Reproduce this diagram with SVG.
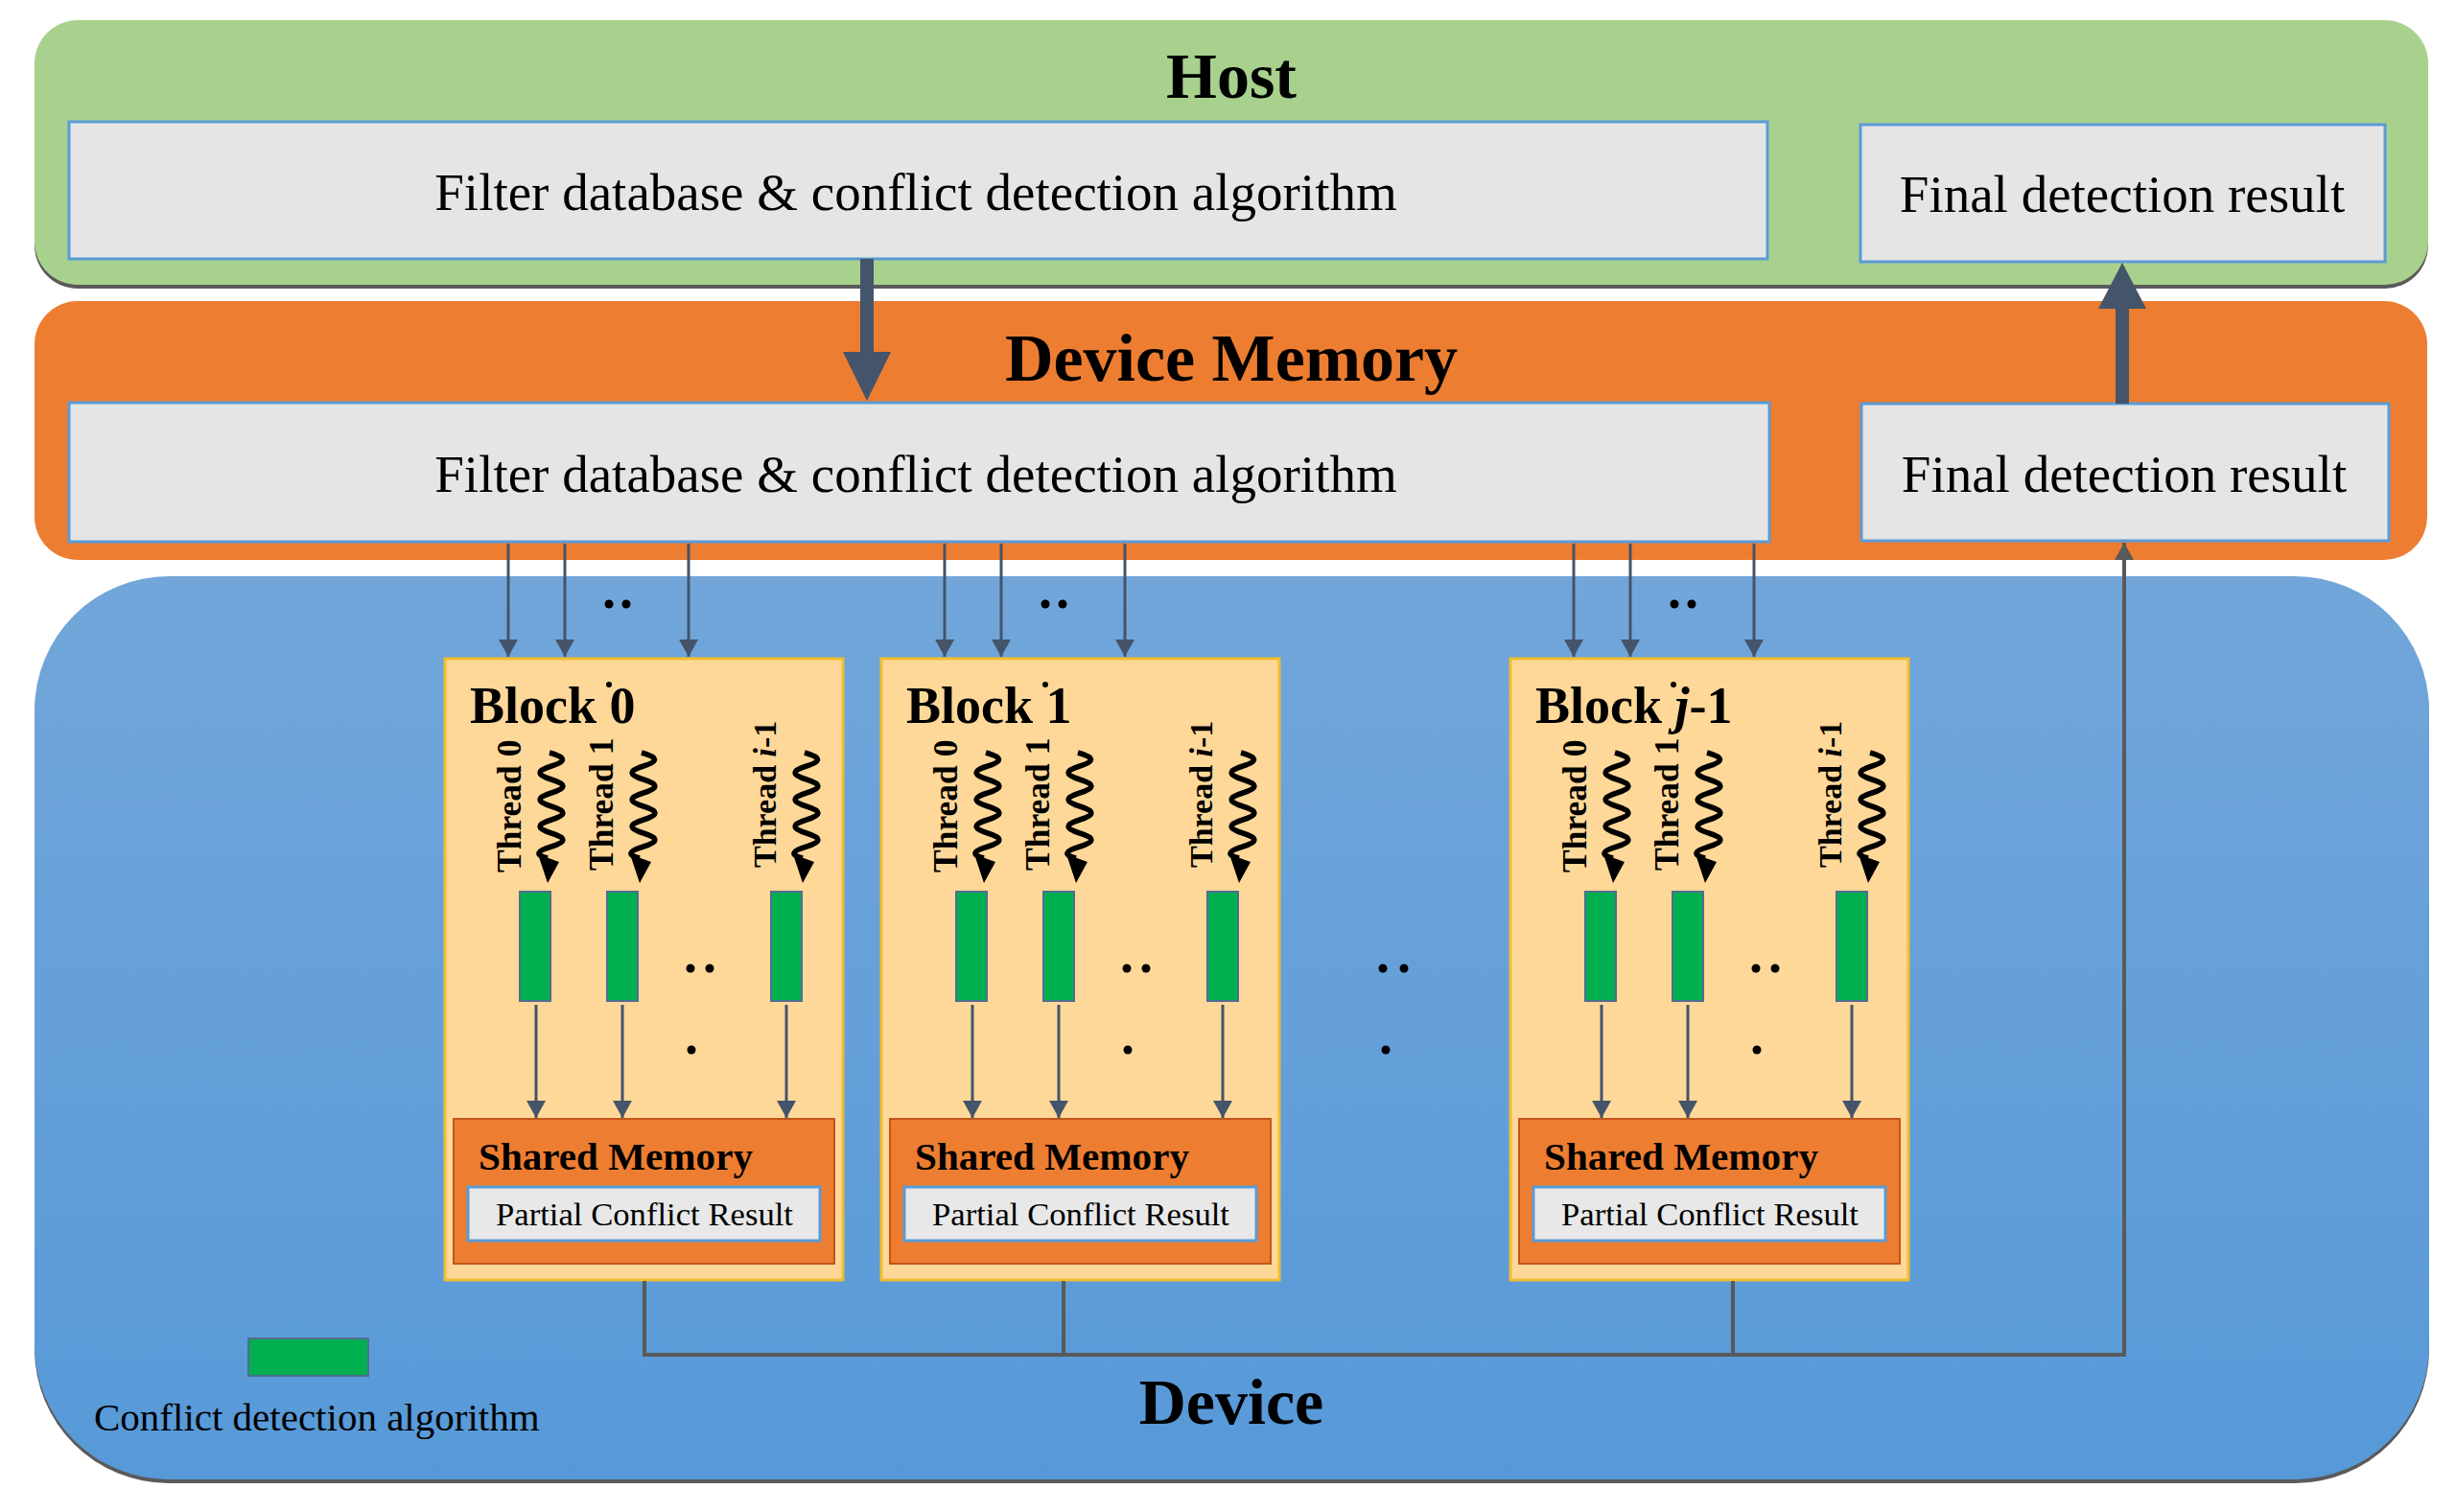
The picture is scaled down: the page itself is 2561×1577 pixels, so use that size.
<svg xmlns="http://www.w3.org/2000/svg" width="2561" height="1577" viewBox="0 0 2561 1577">
<style>
.t{font-family:"Liberation Serif","Times New Roman",serif;fill:#000}
.b{font-weight:bold}
.box{fill:#e5e5e5;stroke:#5b9bd5;stroke-width:3}
.blk{fill:#fed899;stroke:#f0be30;stroke-width:3}
.shm{fill:#ed7d31;stroke:#c0561a;stroke-width:2}
.pcr{fill:#e8e8e8;stroke:#5b9bd5;stroke-width:3}
.alg{fill:#00b050;stroke:#4f6d8f;stroke-width:2}
.ar{stroke:#44546a;stroke-width:3;fill:none;marker-end:url(#ah)}
.cn{stroke:#595959;stroke-width:4;fill:none}
.big{fill:#44546a}
.sq{stroke:#000;stroke-width:5.5;fill:none}
</style>
<defs>
<linearGradient id="blueG" x1="0" y1="0" x2="0" y2="1">
<stop offset="0" stop-color="#72a6da"/>
<stop offset="1" stop-color="#5799d8"/>
</linearGradient>
<marker id="ah" viewBox="0 0 18 20" refX="18" refY="10" markerWidth="18" markerHeight="20" markerUnits="userSpaceOnUse" orient="auto">
<path d="M0,0 L18,10 L0,20 z" fill="#44546a"/>
</marker>
<marker id="ahc" viewBox="0 0 18 20" refX="18" refY="10" markerWidth="18" markerHeight="20" markerUnits="userSpaceOnUse" orient="auto">
<path d="M0,0 L18,10 L0,20 z" fill="#595959"/>
</marker>
<g id="sq">
<path class="sq" d="M-4,0 q26,7 2,14 q-24,7 0,14 q24,7 0,14 q-24,7 0,14 q24,7 0,14 q-24,7 0,14 q24,7 0,14 q-24,7 -4,12"/>
<polygon points="-16,106 6,114 -6,136" fill="#000"/>
</g>
</defs>

<g id="host">
<rect x="36" y="25" width="2496" height="276" rx="45" fill="#5a5a5a"/>
<rect x="36" y="21" width="2496" height="276" rx="45" fill="#a9d18e"/>
<text class="t b" x="1284" y="102" font-size="68" text-anchor="middle">Host</text>
</g>
<g id="host-filter">
<rect class="box" x="72" y="127" width="1771" height="143"/>
<text class="t" x="955" y="219" font-size="55" text-anchor="middle">Filter database &amp; conflict detection algorithm</text>
</g>
<g id="host-final">
<rect class="box" x="1940" y="130" width="547" height="143"/>
<text class="t" x="2213" y="221" font-size="55" text-anchor="middle">Final detection result</text>
</g>

<g id="device-memory">
<rect x="36" y="314" width="2495" height="270" rx="45" fill="#ed7d31"/>
<text class="t b" x="1284" y="397" font-size="70" text-anchor="middle">Device Memory</text>
</g>
<g id="dm-filter">
<rect class="box" x="72" y="420" width="1773" height="145"/>
<text class="t" x="955" y="513" font-size="55" text-anchor="middle">Filter database &amp; conflict detection algorithm</text>
</g>
<g id="dm-final">
<rect class="box" x="1941" y="421" width="550" height="143"/>
<text class="t" x="2215" y="513" font-size="55" text-anchor="middle">Final detection result</text>
</g>

<g id="device">
<rect x="36" y="605" width="2497" height="942" rx="140" fill="#5a5a5a"/>
<rect x="36" y="601" width="2497" height="942" rx="140" fill="url(#blueG)"/>
<text class="t b" x="1284" y="1485" font-size="68" text-anchor="middle">Device</text>
</g>

<g id="legend">
<rect class="alg" x="259" y="1396" width="125" height="39"/>
<text class="t" x="98" y="1492" font-size="41">Conflict detection algorithm</text>
</g>

<g id="block0">
<rect class="blk" x="464" y="687" width="415" height="648"/>
<text class="t b" x="490" y="754" font-size="54">Block 0</text>
<circle cx="635" cy="714" r="3"/>
<text class="t b" font-size="35.5" transform="translate(543,910) rotate(-90)">Thread 0</text>
<text class="t b" font-size="35.5" transform="translate(639,908) rotate(-90)">Thread 1</text>
<text class="t b" font-size="34" transform="translate(809,905) rotate(-90)">Thread <tspan font-style="italic">i</tspan>-1</text>
<use href="#sq" x="577" y="785"/>
<use href="#sq" x="673" y="785"/>
<use href="#sq" x="843" y="785"/>
<rect class="alg" x="542" y="930" width="32" height="114"/>
<rect class="alg" x="633" y="930" width="32" height="114"/>
<rect class="alg" x="804" y="930" width="32" height="114"/>
<line class="ar" x1="559" y1="1048" x2="559" y2="1166"/>
<line class="ar" x1="649" y1="1048" x2="649" y2="1166"/>
<line class="ar" x1="820" y1="1048" x2="820" y2="1166"/>
<circle cx="720" cy="1010" r="4.5"/><circle cx="740" cy="1010" r="4.5"/><circle cx="721" cy="1095" r="4.5"/>
<rect class="shm" x="473" y="1167" width="397" height="151"/>
<text class="t b" x="499" y="1220" font-size="41" textLength="286" lengthAdjust="spacingAndGlyphs">Shared Memory</text>
<rect class="pcr" x="488" y="1238" width="367" height="56"/>
<text class="t" x="517" y="1278" font-size="33" textLength="310" lengthAdjust="spacingAndGlyphs">Partial Conflict Result</text>
</g>

<g id="block1" transform="translate(455,0)">
<rect class="blk" x="464" y="687" width="415" height="648"/>
<text class="t b" x="490" y="754" font-size="54">Block 1</text>
<circle cx="635" cy="714" r="3"/>
<text class="t b" font-size="35.5" transform="translate(543,910) rotate(-90)">Thread 0</text>
<text class="t b" font-size="35.5" transform="translate(639,908) rotate(-90)">Thread 1</text>
<text class="t b" font-size="34" transform="translate(809,905) rotate(-90)">Thread <tspan font-style="italic">i</tspan>-1</text>
<use href="#sq" x="577" y="785"/>
<use href="#sq" x="673" y="785"/>
<use href="#sq" x="843" y="785"/>
<rect class="alg" x="542" y="930" width="32" height="114"/>
<rect class="alg" x="633" y="930" width="32" height="114"/>
<rect class="alg" x="804" y="930" width="32" height="114"/>
<line class="ar" x1="559" y1="1048" x2="559" y2="1166"/>
<line class="ar" x1="649" y1="1048" x2="649" y2="1166"/>
<line class="ar" x1="820" y1="1048" x2="820" y2="1166"/>
<circle cx="720" cy="1010" r="4.5"/><circle cx="740" cy="1010" r="4.5"/><circle cx="721" cy="1095" r="4.5"/>
<rect class="shm" x="473" y="1167" width="397" height="151"/>
<text class="t b" x="499" y="1220" font-size="41" textLength="286" lengthAdjust="spacingAndGlyphs">Shared Memory</text>
<rect class="pcr" x="488" y="1238" width="367" height="56"/>
<text class="t" x="517" y="1278" font-size="33" textLength="310" lengthAdjust="spacingAndGlyphs">Partial Conflict Result</text>
</g>

<g id="blockj-1" transform="translate(1111,0)">
<rect class="blk" x="464" y="687" width="415" height="648"/>
<text class="t b" x="490" y="754" font-size="54">Block <tspan font-style="italic">j</tspan>-1</text>
<circle cx="634" cy="714" r="3"/>
<text class="t b" font-size="35.5" transform="translate(543,910) rotate(-90)">Thread 0</text>
<text class="t b" font-size="35.5" transform="translate(639,908) rotate(-90)">Thread 1</text>
<text class="t b" font-size="34" transform="translate(809,905) rotate(-90)">Thread <tspan font-style="italic">i</tspan>-1</text>
<use href="#sq" x="577" y="785"/>
<use href="#sq" x="673" y="785"/>
<use href="#sq" x="843" y="785"/>
<rect class="alg" x="542" y="930" width="32" height="114"/>
<rect class="alg" x="633" y="930" width="32" height="114"/>
<rect class="alg" x="804" y="930" width="32" height="114"/>
<line class="ar" x1="559" y1="1048" x2="559" y2="1166"/>
<line class="ar" x1="649" y1="1048" x2="649" y2="1166"/>
<line class="ar" x1="820" y1="1048" x2="820" y2="1166"/>
<circle cx="720" cy="1010" r="4.5"/><circle cx="740" cy="1010" r="4.5"/><circle cx="721" cy="1095" r="4.5"/>
<rect class="shm" x="473" y="1167" width="397" height="151"/>
<text class="t b" x="499" y="1220" font-size="41" textLength="286" lengthAdjust="spacingAndGlyphs">Shared Memory</text>
<rect class="pcr" x="488" y="1238" width="367" height="56"/>
<text class="t" x="517" y="1278" font-size="33" textLength="310" lengthAdjust="spacingAndGlyphs">Partial Conflict Result</text>
</g>

<g id="ellipsis">
<circle cx="635" cy="630" r="4.5"/><circle cx="653" cy="630" r="4.5"/>
<circle cx="1090" cy="630" r="4.5"/><circle cx="1108" cy="630" r="4.5"/>
<circle cx="1746" cy="630" r="4.5"/><circle cx="1764" cy="630" r="4.5"/>
<circle cx="1442" cy="1010" r="4.5"/><circle cx="1464" cy="1010" r="4.5"/><circle cx="1445" cy="1095" r="4.5"/>
</g>

<g id="connectors">
<polygon class="big" points="897,270 911,270 911,367 929,367 904,418 879,367 897,367"/>
<polygon class="big" points="2206,421 2220,421 2220,322 2238,322 2213,274 2188,322 2206,322"/>
<line class="ar" x1="530" y1="567" x2="530" y2="685"/>
<line class="ar" x1="589" y1="567" x2="589" y2="685"/>
<line class="ar" x1="718" y1="567" x2="718" y2="685"/>
<line class="ar" x1="985" y1="567" x2="985" y2="685"/>
<line class="ar" x1="1044" y1="567" x2="1044" y2="685"/>
<line class="ar" x1="1173" y1="567" x2="1173" y2="685"/>
<line class="ar" x1="1641" y1="567" x2="1641" y2="685"/>
<line class="ar" x1="1700" y1="567" x2="1700" y2="685"/>
<line class="ar" x1="1829" y1="567" x2="1829" y2="685"/>
<path class="cn" d="M672,1336 V1413 H2215 V566" marker-end="url(#ahc)"/>
<path class="cn" d="M1109,1336 V1413"/>
<path class="cn" d="M1807,1336 V1413"/>
</g>
</svg>
